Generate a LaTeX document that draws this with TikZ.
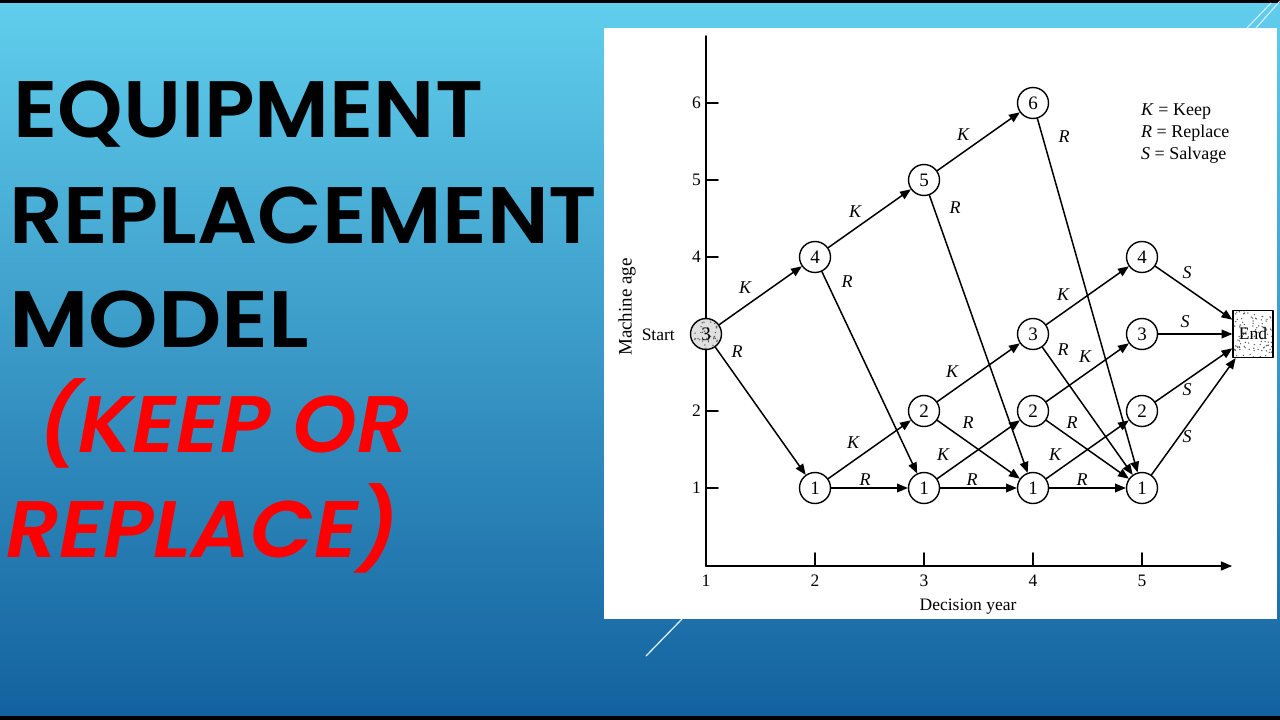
\documentclass[tikz,border=0pt]{standalone}
\usepackage{fontspec}
\setmainfont{Liberation Serif}
\newfontfamily\titlefont{Poppins}[BoldFont={Poppins SemiBold},BoldItalicFont={Poppins SemiBold Italic}]
\usetikzlibrary{arrows,calc}
\definecolor{ttcdee}{rgb}{0.38,0.81,0.93}
\definecolor{ssaadd}{rgb}{0.22,0.60,0.79}
\definecolor{qq66aa}{rgb}{0.07,0.38,0.62}
\definecolor{ffqqqq}{rgb}{1.,0.,0.}
\definecolor{ddeeff}{rgb}{0.85,0.93,1.}
\newcommand{\fitline}[2]{\resizebox{#1}{\height}{#2}}

\begin{document}
\begin{tikzpicture}[line cap=round,line join=round,>=triangle 45,x=1pt,y=-1pt,
	stage/.style={circle,draw,line width=1.4pt,fill=white,minimum size=31pt,inner sep=0pt,font=\fontsize{19}{19}\selectfont},
	lbl/.style={inner sep=0pt,font=\fontsize{18}{18}\selectfont\itshape},
	txt/.style={inner sep=0pt,font=\fontsize{17.5}{17.5}\selectfont},
	title/.style={anchor=base west,inner sep=0pt,font=\titlefont\bfseries\fontsize{80}{80}\selectfont},
	speckle/.style={fill=black!12,path picture={\foreach \i in {1,...,130}
		\fill[black!65] ($(path picture bounding box.center)+(rand*22,rand*26)$) circle (0.75);}}]
	\pgfmathsetseed{7}
	\shade[top color=ttcdee,middle color=ssaadd,bottom color=qq66aa] (0,0) rectangle (1280,720);
	\fill[black] (0,0) rectangle (1280,3);
	\fill[black] (0,716) rectangle (1280,720);
	\useasboundingbox (0,0) rectangle (1280,720);
	\draw[color=ddeeff,line width=1.3pt] (682,619) -- (646,656);
	\draw[color=ddeeff,line width=1.1pt] (1247,28) -- (1271,3);
	\draw[color=ddeeff,line width=1.1pt] (1256,28) -- (1280,1);
	\fill[white] (604,28) rectangle (1277,619);
	% title
	\node[title] (t1) at (13,137) {\fitline{470pt}{EQUIPMENT}};
	\node[title] (t2) at (9,243) {\fitline{588pt}{REPLACEMENT}};
	\node[title] (t3) at (9,347) {\fitline{300pt}{MODEL}};
	\node[title,text=ffqqqq] (t4) at (38,452) {\itshape\fitline{372pt}{(KEEP OR}};
	\node[title,text=ffqqqq] (t5) at (6,557) {\itshape\fitline{392pt}{REPLACE)}};
	% axes
	\draw[line width=1.6pt] (706,36) -- (706,566);
	\draw[->,line width=1.6pt] (706,566) -- (1232,566);
	\foreach \y/\a in {488/1,411/2,334/3,257/4,180/5,103/6} {
		\draw[line width=1.6pt] (706,\y) -- (718,\y);
		\node[txt,anchor=east] (ty\a) at (701,\y) {\a};
	}
	\foreach \x/\d in {815/2,924/3,1033/4,1142/5}
		\draw[line width=1.6pt] (\x,566) -- (\x,553);
	\foreach \x/\d in {706/1,815/2,924/3,1033/4,1142/5}
		\node[txt] (tx\d) at (\x,581) {\d};
	\node[txt] (xlab) at (968,607) {Decision year};
	\node[txt,rotate=90,font=\fontsize{19}{19}\selectfont] (ylab) at (627,307) {Machine age};
	\node[txt,anchor=east] (start) at (675,335) {Start};
	% legend
	\node[txt,anchor=west,font=\fontsize{18}{18}\selectfont] (leg1) at (1141,112) {\textit{K} = Keep};
	\node[txt,anchor=west,font=\fontsize{18}{18}\selectfont] (leg2) at (1141,133) {\textit{R} = Replace};
	\node[txt,anchor=west,font=\fontsize{18}{18}\selectfont] (leg3) at (1141,155) {\textit{S} = Salvage};
	% stages
	\node[stage,speckle] (v13) at (706,334) {3};
	\node[stage] (v24) at (815,257) {4};
	\node[stage] (v21) at (815,488) {1};
	\node[stage] (v35) at (924,180) {5};
	\node[stage] (v32) at (924,411) {2};
	\node[stage] (v31) at (924,488) {1};
	\node[stage] (v46) at (1033,103) {6};
	\node[stage] (v43) at (1033,334) {3};
	\node[stage] (v42) at (1033,411) {2};
	\node[stage] (v41) at (1033,488) {1};
	\node[stage] (v54) at (1142,257) {4};
	\node[stage] (v53) at (1142,334) {3};
	\node[stage] (v52) at (1142,411) {2};
	\node[stage] (v51) at (1142,488) {1};
	\node[draw,line width=1.4pt,fill=white,speckle,fill=white,minimum width=40pt,minimum height=47pt,inner sep=0pt,font=\fontsize{17.5}{17.5}\selectfont] (vend) at (1253,334) {End};
	% keep / replace / salvage
	\foreach \a/\b in {v13/v24,v13/v21,v24/v35,v24/v31,v21/v32,v21/v31,
		v35/v46,v35/v41,v32/v43,v32/v41,v31/v42,v31/v41,v46/v51,
		v43/v54,v43/v51,v42/v53,v42/v51,v41/v52,v41/v51,
		v54/vend,v53/vend,v52/vend,v51/vend}
		\draw[->,line width=1.5pt] (\a) -- (\b);
	\foreach \x/\y/\t [count=\i] in {745/288/K,737/352/R,855/212/K,847/282/R,
		853/443/K,865/480/R,963/135/K,955/208/R,952/372/K,968/423/R,
		943/455/K,972/480/R,1064/137/R,1063/295/K,1063/350/R,1085/357/K,
		1072/423/R,1055/455/K,1082/480/R,1187/273/S,1185/322/S,1187/390/S,1187/437/S}
		\node[lbl] (l\i) at (\x,\y) {\t};
\end{tikzpicture}
\end{document}
